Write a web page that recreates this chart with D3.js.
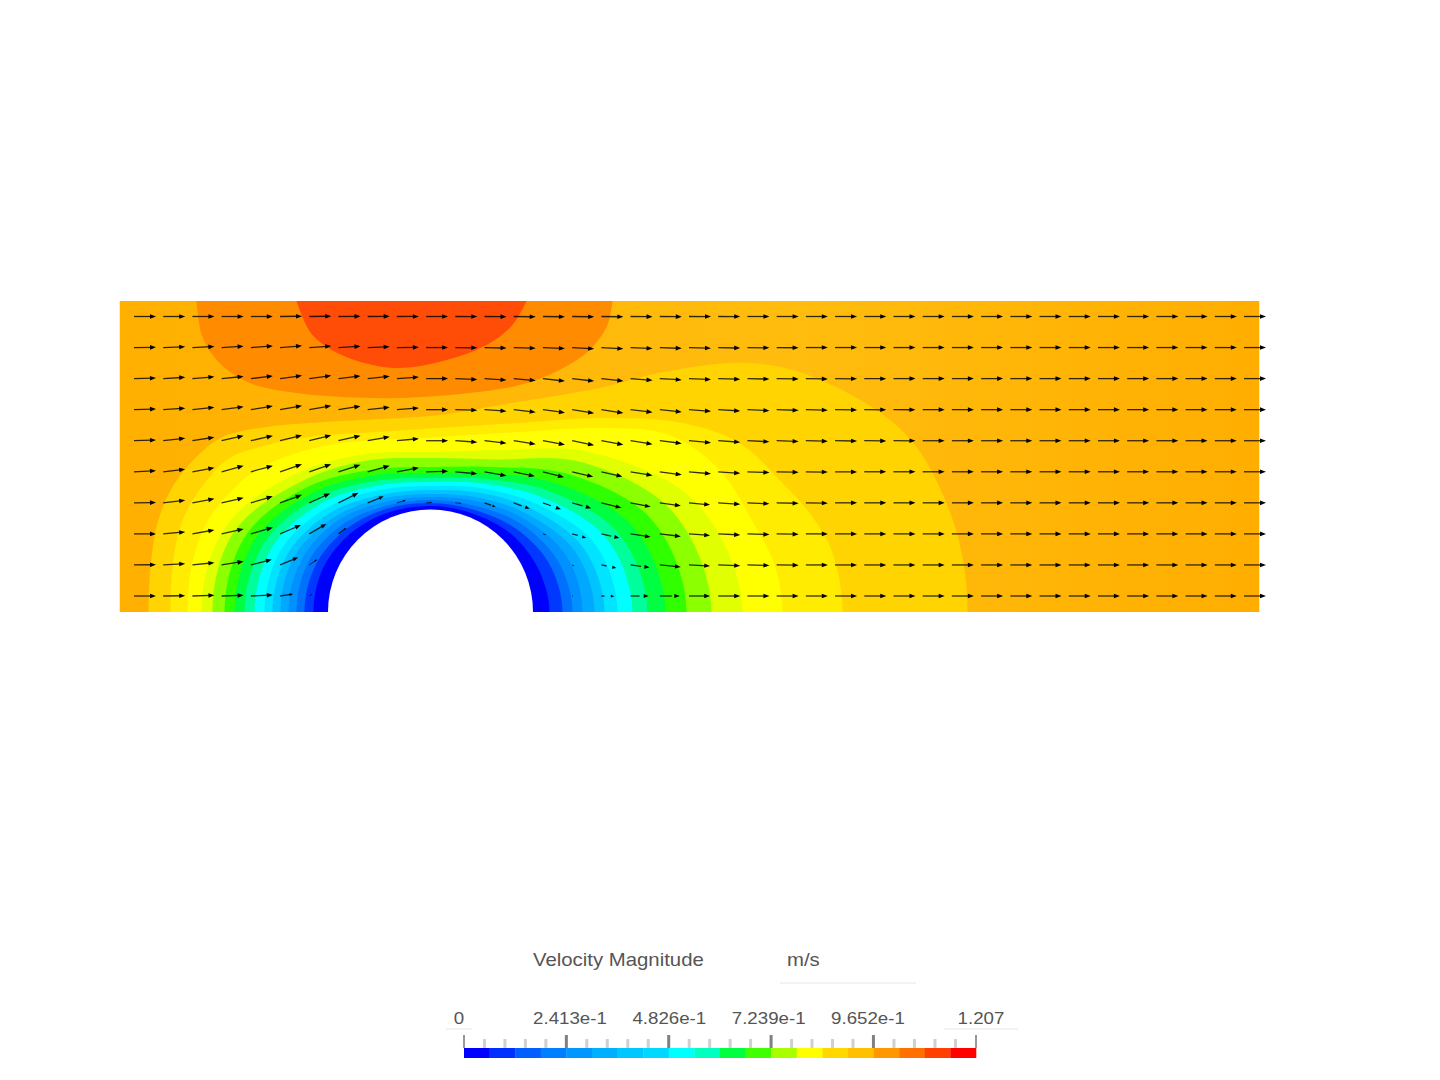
<!DOCTYPE html>
<html>
<head>
<meta charset="utf-8">
<script src="https://cdn.jsdelivr.net/npm/d3@7"></script>
<style>
body { margin: 0; background: #fff; }
text { font-family: "Liberation Sans", Arial, sans-serif; fill: #555; }
</style>
</head>
<body>
<div id="viz"></div>
<script>
// legend
var legendTitle = "Velocity Magnitude";
var legendUnit = "m/s";
var legendMax = 1.207;
var legendTicks = [0, 0.2413, 0.4826, 0.7239, 0.9652, 1.207];
var legendLabels = ["0", "2.413e-1", "4.826e-1", "7.239e-1", "9.652e-1", "1.207"];
var legendColors = ["#0000ff", "#0030ff", "#0060ff", "#0080ff", "#0098ff", "#00b0ff", "#00c8ff", "#00d8ff", "#00ffff", "#00ffc0",
    "#00ff40", "#40ff00", "#a8ff00", "#ffff00", "#ffd800", "#ffc000", "#ff9800", "#ff7000", "#ff4000", "#ff0000"];

// contours around the cylinder, radius at each angle, outermost first
var polarAngles = [180, 157.5, 135, 112.5, 90, 67.5, 45, 22.5, 0];
var polarRadius = [
    [229, 222, 194, 171, 160, 175, 226, 287, 312],
    [218, 212, 184, 164, 154, 165, 212, 262, 281],
    [206, 200, 176, 154, 145, 157, 195, 240, 256],
    [196, 190, 168, 148, 139, 150, 181, 220, 235],
    [186, 180, 161, 142, 134, 144, 170, 204, 217],
    [176, 171, 154, 137, 130, 139, 161, 191, 202],
    [166, 162, 147, 132, 126, 134, 152, 178, 187],
    [158, 154, 141, 127, 122, 129, 145, 166, 174],
    [150, 147, 135, 123, 118, 124, 138, 157, 164],
    [142, 139, 130, 119, 115, 120, 132, 147, 152],
    [134, 132, 124, 115, 112, 115, 126, 137, 142],
    [126, 124, 118, 112, 109, 111, 119, 128, 132],
    [117, 116, 112, 108, 106, 107, 112, 116, 119]
];
var polarColors = ["#e0ff00", "#8cff00", "#30ff00", "#00ff40", "#00ff9c", "#00ffff", "#00e4ff", "#00c4ff",
    "#00a8ff", "#0090ff", "#0070ff", "#0038ff", "#0000ff"];

// contours
var contourOuter = [[29,0],[31,45],[38,89],[53,125],[77,155],[103,175],[147,185],[207,190],[320,197],[380,207],[480,224],[530,237],[580,246],[630,249],[680,240],[757,202],[797,165],[827,109],[843,55],[848,0]];
var contourMid = [[51,0],[53,45],[62,89],[80,122],[107,152],[140,165],[190,175],[257,180],[320,184],[400,189],[480,194],[563,189],[620,169],[660,132],[693,95],[713,59],[723,0]];
var contourInner = [[68,0],[72,45],[87,89],[110,119],[137,142],[177,159],[223,169],[320,175],[400,180],[480,184],[550,177],[600,142],[635,87],[655,47],[663,0]];
var contourTopOrange = [[77,311],[83,275],[100,249],[130,229],[177,219],[223,215],[280,214],[350,219],[400,227],[440,242],[470,262],[488,287],[493,311]];
var contourTopRed = [[177,311],[193,277],[227,255],[277,244],[327,252],[367,267],[393,287],[407,311]];

// arrows, tip offset per row and column, null where the cylinder is
var arrowU = [
    [22,22,22,22,22,22,22,22,22,22,22,22,22,22,22,22,22,22,22,22,22,22,22,22,22,22,22,22,22,22,22,22,22,22,22,22,22,22,22],
    [22,22,22,22,22,22,22,22,22,22,22,22,22,22,22,22,22,22,22,22,22,22,22,22,22,22,22,22,22,22,22,22,22,22,22,22,22,22,22],
    [22,22,22,22,22,22,22,22,22,22,22,22,22,22,22,22,22,22,22,22,22,22,22,22,22,22,22,22,22,22,22,22,22,22,22,22,22,22,22],
    [22,22,22,22,22,22,22,22,22,22,22,22,22,22,22,22,22,22,22,22,22,22,22,22,22,22,22,22,22,22,22,22,22,22,22,22,22,22,22],
    [22,22,22,22,22,22,22,22,22,22,22,22,22,22,22,22,22,22,22,22,22,22,22,22,22,22,22,22,22,22,22,22,22,22,22,22,22,22,22],
    [22,22,22,22,22,22,22,22,22,22,22,22,22,21,21,21,21,22,22,22,22,22,22,22,22,22,22,22,22,22,22,22,22,22,22,22,22,22,22],
    [22,22,22,22,22,22,21,20,16,9,6,6,11,16,18,19,20,20,21,21,22,22,22,22,22,22,22,22,22,22,22,22,22,22,22,22,22,22,22],
    [22,22,22,22,22,21,17,8,null,null,null,null,null,null,3,14,18,20,21,21,22,22,22,22,22,22,22,22,22,22,22,22,22,22,22,22,22,22,22],
    [22,22,22,22,21,18,8,null,null,null,null,null,null,null,null,2,15,19,21,21,22,22,22,22,22,22,22,22,22,22,22,22,22,22,22,22,22,22,22],
    [22,22,22,22,22,13,3,null,null,null,null,null,null,null,null,1,13,18,20,21,22,22,22,22,22,22,22,22,22,22,22,22,22,22,22,22,22,22,22]
];
var arrowV = [
    [0,0,0,0,0,0.3,0.3,0.2,0.2,0.1,0,-0.1,-0.2,-0.3,-0.3,-0.3,-0.3,-0.2,-0.2,-0.1,-0.1,0,0,0,0,0,0,0,0,0,0,0,0,0,0,0,0,0,0],
    [0.3,0.7,1,1.3,1.6,1.8,1.5,1.3,0.8,0.3,0,-0.3,-0.5,-0.7,-1,-1.2,-1.2,-1,-0.8,-0.7,-0.5,-0.3,-0.2,0,0,0,0,0,0,0,0,0,0,0,0,0,0,0,0],
    [0.5,1.3,1.8,2.2,2.7,3,3,2.7,2.3,1.5,0,-1,-1.5,-2,-2.5,-2.5,-2.4,-1.7,-1.3,-1,-0.7,-0.5,-0.4,-0.3,-0.2,-0.1,0,0,0,0,0,0,0,0,0,0,0,0,0],
    [0.7,1.5,2.3,3,3.7,4,4,3.5,2.5,1.7,0,-0.5,-1.5,-2.5,-3,-3.5,-3.4,-2.7,-2.3,-1.7,-1.3,-1,-0.7,-0.5,-0.3,-0.2,-0.1,0,0,0,0,0,0,0,0,0,0,0,0],
    [0.7,2.5,3.5,5,5,5.5,5.5,5,4,2,0,-1.5,-2.5,-3.5,-4,-4.5,-4,-3.5,-2.7,-2,-1.5,-1,-0.7,-0.5,-0.3,-0.2,-0.1,0,0,0,0,0,0,0,0,0,0,0,0],
    [1,2.5,4,6,6,7.5,7.5,7,6,4,0.5,-2,-4,-4.5,-5.5,-5,-4.7,-3.7,-3,-2,-1.5,-0.8,-0.5,-0.3,-0.2,0,0,0,0,0,0,0,0,0,0,0,0,0,0],
    [0.3,2.5,4,5,6.5,8,9.5,10,6.5,2.5,0.5,-0.5,-4,-6,-6.5,-5.5,-5,-4,-3,-2,-1.5,-1,-0.5,-0.3,0,0,0,0,0,0,0,0,0,0,0,0,0,0,0],
    [0,2,4,5,6.5,9,10,6,null,null,null,null,null,null,-1,-4,-4,-3,-2.5,-1.5,-1,-0.7,-0.3,0,0,0,0,0,0,0,0,0,0,0,0,0,0,0,0],
    [0.2,1.3,2.3,3.5,5.5,7.5,5.5,null,null,null,null,null,null,null,null,-1,-3,-2.5,-2,-1,-0.7,-0.5,-0.3,0,0,0,0,0,0,0,0,0,0,0,0,0,0,0,0],
    [0,0.3,0.7,0.7,1,2,2,null,null,null,null,null,null,null,null,0,-0.3,0,0,0,0,0,0,0,0,0,0,0,0,0,0,0,0,0,0,0,0,0,0]
];
// arrows in the wake whose shaft stops short of the head: row, column, shaft fraction
var brokenArrows = [[6,12,0.6],[6,13,0.5],[6,14,0.45],[6,15,0.55],[6,16,0.75],[7,15,0.4],[7,16,0.55],[8,16,0.35],[8,17,0.55],[9,16,0.25],[9,17,0.5],[9,18,0.6]];

var svg = d3.select("#viz").append("svg")
    .attr("width", 1440)
    .attr("height", 1080);

// channel scales
var x = d3.scaleLinear().domain([0, 1140]).range([119.5, 1259.5]);
var y = d3.scaleLinear().domain([0, 311]).range([612, 301]);
var cylinder = { x: 311, r: 102.5 };

var defs = svg.append("defs");
defs.append("clipPath").attr("id", "channel").append("rect")
    .attr("x", x(0)).attr("y", y(311))
    .attr("width", x(1140) - x(0)).attr("height", y(0) - y(311));
var grad = defs.append("linearGradient").attr("id", "baseFill");
grad.append("stop").attr("offset", "0").attr("stop-color", "#ffb000");
grad.append("stop").attr("offset", "0.6").attr("stop-color", "#ffbd0e");
grad.append("stop").attr("offset", "1").attr("stop-color", "#ffae00");

var field = svg.append("g").attr("clip-path", "url(#channel)");
field.append("rect")
    .attr("x", x(0)).attr("y", y(311))
    .attr("width", x(1140) - x(0)).attr("height", y(0) - y(311))
    .attr("fill", "url(#baseFill)");

var contourLine = d3.line()
    .x(function (d) { return x(d[0]); })
    .y(function (d) { return y(d[1]); })
    .curve(d3.curveCatmullRom.alpha(0.5));

function addContour(points, color) {
    field.append("path").attr("d", contourLine(points) + "Z").attr("fill", color);
}

// the bottom is a symmetry plane, so contours meet it square: mirror the next point below it
function mirrored(points) {
    var n = points.length;
    return [[points[1][0], -points[1][1]]].concat(points, [[points[n - 2][0], -points[n - 2][1]]]);
}

addContour(contourTopOrange, "#ff8c00");
addContour(contourTopRed, "#ff4c06");
addContour(mirrored(contourOuter), "#ffd400");
addContour(mirrored(contourMid), "#ffec00");
addContour(mirrored(contourInner), "#ffff00");

polarRadius.forEach(function (radii, k) {
    var points = radii.map(function (r, i) {
        var a = polarAngles[i] * Math.PI / 180;
        return [cylinder.x + r * Math.cos(a), r * Math.sin(a)];
    });
    addContour(mirrored(points), polarColors[k]);
});

// the cylinder itself
field.append("circle")
    .attr("cx", x(cylinder.x))
    .attr("cy", y(0))
    .attr("r", x(cylinder.r) - x(0))
    .attr("fill", "#fff");

// arrows
var col = d3.scaleLinear().domain([0, 38]).range([134, 1244]);
var row = d3.scaleLinear().domain([0, 9]).range([316.5, 596]);
var shaftFraction = {};
brokenArrows.forEach(function (b) { shaftFraction[b[0] + "_" + b[1]] = b[2]; });

var arrowData = [];
arrowU.forEach(function (us, r) {
    us.forEach(function (u, c) {
        if (u !== null) arrowData.push({ r: r, c: c, u: u, v: arrowV[r][c], f: shaftFraction[r + "_" + c] || 1 });
    });
});

var arrows = svg.append("g").selectAll("g")
    .data(arrowData)
    .enter().append("g")
    .attr("transform", function (d) {
        return "translate(" + col(d.c) + "," + row(d.r) + ") rotate(" + (-Math.atan2(d.v, d.u) * 180 / Math.PI) + ")";
    });

function arrowLen(d) { return Math.sqrt(d.u * d.u + d.v * d.v); }

arrows.append("line")
    .attr("x1", 0).attr("y1", 0)
    .attr("x2", function (d) { return arrowLen(d) * d.f - (d.f === 1 ? arrowLen(d) * 0.15 : 0); })
    .attr("y2", 0)
    .attr("stroke", "#000")
    .attr("stroke-opacity", 0.8)
    .attr("stroke-width", function (d) { return arrowLen(d) < 10 ? 0.8 : 1.3; });

arrows.append("path")
    .attr("d", function (d) {
        var l = arrowLen(d), h = 6 * l / 22, w = 2.3 * l / 22;
        return "M" + l + ",0L" + (l - h) + "," + (-w) + "L" + (l - h) + "," + w + "Z";
    })
    .attr("fill", "#000");

// legend
var lx = d3.scaleLinear().domain([0, legendMax]).range([464, 976]);
var bandW = (lx(legendMax) - lx(0)) / legendColors.length;

svg.append("text").attr("class", "wide").attr("x", 533).attr("y", 965.5).style("font-size", "18.5px").text(legendTitle);
svg.append("text").attr("class", "wide").attr("x", 787).attr("y", 965.5).style("font-size", "18.5px").text(legendUnit);
svg.append("line").attr("x1", 780).attr("x2", 916).attr("y1", 983).attr("y2", 983).attr("stroke", "#e6e6e6");

svg.append("g").selectAll("rect")
    .data(legendColors)
    .enter().append("rect")
    .attr("x", function (d, i) { return lx(0) + i * bandW; })
    .attr("y", 1048)
    .attr("width", bandW + 0.3)
    .attr("height", 10)
    .attr("fill", function (d) { return d; });

// minor ticks, four between each major
var minor = [];
d3.pairs(legendTicks).forEach(function (p) {
    [1, 2, 3, 4].forEach(function (k) { minor.push(p[0] + (p[1] - p[0]) * k / 5); });
});
svg.append("g").selectAll("line")
    .data(minor)
    .enter().append("line")
    .attr("x1", function (d) { return lx(d); })
    .attr("x2", function (d) { return lx(d); })
    .attr("y1", 1039).attr("y2", 1048)
    .attr("stroke", "#d0d0d0").attr("stroke-width", 3);
svg.append("g").selectAll("line")
    .data(legendTicks)
    .enter().append("line")
    .attr("x1", function (d) { return lx(d); })
    .attr("x2", function (d) { return lx(d); })
    .attr("y1", 1035).attr("y2", 1048)
    .attr("stroke", function (d, i) { return i === 0 || i === 5 ? "#555" : "#808080"; })
    .attr("stroke-width", function (d, i) { return i === 0 || i === 5 ? 1.2 : 3; });

// tick labels sit on their own spacing, the ends are pushed outward
var labelX = d3.scaleLinear().domain([1, 4]).range([570, 868]);
svg.append("g").selectAll("text")
    .data(legendLabels)
    .enter().append("text")
    .attr("class", "wide")
    .attr("x", function (d, i) { return i === 0 ? 459 : i === 5 ? 981 : labelX(i); })
    .attr("y", 1024)
    .attr("text-anchor", "middle")
    .style("font-size", "17px")
    .text(function (d) { return d; });

// the original text is stretched a little wider than the font
svg.selectAll("text.wide").each(function () {
    d3.select(this)
        .attr("textLength", this.getComputedTextLength() * 1.1)
        .attr("lengthAdjust", "spacingAndGlyphs");
});

svg.append("line").attr("x1", 446).attr("x2", 472).attr("y1", 1029).attr("y2", 1029).attr("stroke", "#e6e6e6");
svg.append("line").attr("x1", 944).attr("x2", 1018).attr("y1", 1029).attr("y2", 1029).attr("stroke", "#e6e6e6");
</script>
</body>
</html>
